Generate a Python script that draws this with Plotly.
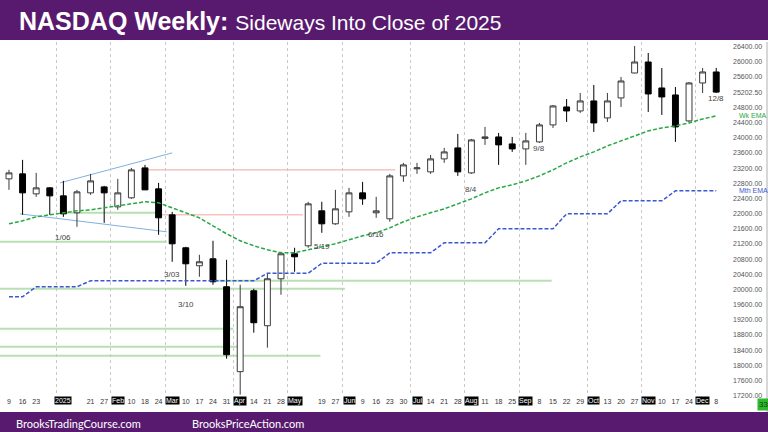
import plotly.graph_objects as go

# ---------------- data ----------------
weeks = ["2024-12-09", "2024-12-16", "2024-12-23", "2024-12-30", "2025-01-06", "2025-01-13", "2025-01-21",
         "2025-01-27", "2025-02-03", "2025-02-10", "2025-02-18", "2025-02-24", "2025-03-03", "2025-03-10",
         "2025-03-17", "2025-03-24", "2025-03-31", "2025-04-07", "2025-04-14", "2025-04-21", "2025-04-28",
         "2025-05-05", "2025-05-12", "2025-05-19", "2025-05-27", "2025-06-02", "2025-06-09", "2025-06-16",
         "2025-06-23", "2025-06-30", "2025-07-07", "2025-07-14", "2025-07-21", "2025-07-28", "2025-08-04",
         "2025-08-11", "2025-08-18", "2025-08-25", "2025-09-02", "2025-09-08", "2025-09-15", "2025-09-22",
         "2025-09-29", "2025-10-06", "2025-10-13", "2025-10-20", "2025-10-27", "2025-11-03", "2025-11-10",
         "2025-11-17", "2025-11-24", "2025-12-01", "2025-12-08"]

tick_labels = ["9", "16", "23", "", "2025", "", "21", "27", "Feb", "10", "18", "24", "Mar", "10", "17", "24",
               "31", "Apr", "14", "21", "28", "May", "", "19", "27", "Jun", "9", "16", "23", "30", "Jul", "14",
               "21", "28", "Aug", "11", "18", "25", "Sep", "8", "15", "22", "29", "Oct", "13", "20", "27", "Nov",
               "10", "17", "24", "Dec", "8"]

opens = [22915, 23047, 22520, 22678, 22467, 22020, 22546, 22704, 22177, 22415, 23205, 22652, 21967, 21098,
         20624, 20808, 20071, 17832, 19965, 19043, 20281, 20940, 21150, 22072, 21730, 22046, 22546, 22020,
         21862, 22994, 23180, 23100, 23442, 23732, 23073, 23982, 24021, 23837, 23705, 23890, 24338, 24812,
         24706, 24970, 24522, 25049, 25707, 25997, 25312, 25128, 24443, 25444, 25734]
highs = [23152, 23416, 23073, 22700, 22862, 22625, 23047, 22731, 22915, 23205, 23284, 22810, 22046, 21124,
         20913, 21282, 20782, 20123, 20018, 20413, 20992, 21098, 22310, 22310, 22625, 22678, 22836, 22441,
         23047, 23337, 23337, 23547, 23732, 24100, 23969, 24285, 24127, 24021, 24127, 24390, 24864, 25022,
         25180, 25391, 25180, 25602, 26418, 26234, 25839, 25338, 25470, 25839, 25839]
lows = [22625, 21967, 22441, 21967, 21914, 21651, 22494, 21756, 22099, 22388, 22620, 21440, 20729, 20097,
        20334, 20123, 18174, 17226, 18859, 18464, 19860, 20466, 21098, 21493, 21704, 21914, 22230, 21888,
        21783, 22836, 23047, 23047, 23337, 22994, 23047, 23811, 23284, 23626, 23284, 23864, 24258, 24416,
        24654, 24153, 24416, 24812, 25700, 24680, 24601, 23890, 24416, 25180, 25180]
closes = [23073, 22546, 22678, 22467, 21993, 22573, 22862, 22546, 22546, 23152, 22625, 21888, 21203, 20676,
          20729, 20202, 18279, 19544, 19122, 20281, 20940, 20861, 22257, 21730, 22125, 22546, 22388, 22072,
          22994, 23284, 23205, 23442, 23626, 23100, 23942, 24021, 23811, 23705, 23916, 24338, 24838, 24706,
          24970, 24390, 24970, 25496, 25997, 25154, 25075, 24285, 25444, 25734, 25202.5]

wk_ema = [21730, 21809, 21914, 21967, 22020, 22072, 22099, 22151, 22204, 22257, 22310, 22283, 22151, 22020,
          21888, 21677, 21466, 21282, 21150, 21045, 20966, 20966, 21045, 21124, 21203, 21308, 21414, 21493,
          21624, 21783, 21914, 22020, 22125, 22257, 22388, 22546, 22678, 22757, 22862, 22994, 23152, 23337,
          23494, 23626, 23784, 23916, 24048, 24180, 24258, 24311, 24390, 24496, 24575]
mth_ema = [19807, 19807, 20070, 20070, 20070, 20070, 20228, 20228, 20228, 20228, 20228, 20228, 20228, 20228,
           20228, 20228, 20228, 20228, 20228, 20426, 20426, 20426, 20426, 20689, 20689, 20689, 20689, 20689,
           20966, 20966, 20966, 20966, 21229, 21229, 21229, 21229, 21598, 21598, 21598, 21598, 21598, 21993,
           21993, 21993, 21993, 22336, 22336, 22336, 22336, 22599, 22599, 22599, 22599]

y_ticks = [26400, 26000, 25600, 25202.5, 24800, 24400, 24000, 23600, 23200, 22800, 22400, 22000, 21600,
           21200, 20800, 20400, 20000, 19600, 19200, 18800, 18400, 18000, 17600, 17200]

# support / resistance levels: (price, from week index, to week index)
green_levels = [(22020, 3.75, 11.1), (21256, -0.7, 11.6), (20228, 15.0, 39.9), (20018, -0.7, 24.7),
                (18964, -0.7, 16.5), (18490, -0.7, 17.0), (18253, -0.7, 22.9)]
red_levels = [(23152, 10.1, 28.4), (21967, 11.1, 21.6)]
channel_lines = [(3.75, 22810, 12.0, 23600), (0.8, 21993, 11.6, 21519)]
bar_notes = [("1/06", 4, 21360), ("3/03", 12, 20390), ("3/10", 13, 19600), ("5/19", 23, 21124),
             ("6/16", 27, 21440), ("8/4", 34, 22625), ("9/8", 39, 23705), ("12/8", 52, 25022)]

# ---------------- figure ----------------
x = list(range(len(weeks)))
PURPLE = "#581a6e"
W, H = 768, 432
ML, MR, MT, MB = 0, 36, 42, 36
PW, PH = W - ML - MR, H - MT - MB


def px(p):
    return (p - ML) / PW


def py(p):
    return (H - MB - p) / PH


def is_month(lab):
    return bool(lab) and (not lab.isdigit() or lab == "2025")


fig = go.Figure()
fig.add_trace(go.Candlestick(
    x=x, open=opens, high=highs, low=lows, close=closes,
    increasing=dict(line=dict(color="#3a3a3a", width=1), fillcolor="white"),
    decreasing=dict(line=dict(color="black", width=1), fillcolor="black"),
    whiskerwidth=0, showlegend=False, hoverinfo="skip"))
fig.add_trace(go.Scatter(x=x, y=wk_ema, mode="lines", line=dict(color="#27a844", width=1.5, dash="4px,2px"),
                         showlegend=False, hoverinfo="skip"))
fig.add_trace(go.Scatter(x=x, y=mth_ema, mode="lines", line=dict(color="#3a58d0", width=1.5, dash="4px,2px"),
                         showlegend=False, hoverinfo="skip"))

shapes = []
for price, a, b in green_levels:
    shapes.append(dict(type="line", xref="x", yref="y", x0=a, x1=b, y0=price, y1=price,
                       line=dict(color="#b9e0b2", width=2), layer="below"))
for price, a, b in red_levels:
    shapes.append(dict(type="line", xref="x", yref="y", x0=a, x1=b, y0=price, y1=price,
                       line=dict(color="#f4a3a3", width=1), layer="below"))
for a, pa, b, pb in channel_lines:
    shapes.append(dict(type="line", xref="x", yref="y", x0=a, x1=b, y0=pa, y1=pb,
                       line=dict(color="#7fb0e0", width=1), layer="below"))
# title & footer bars
shapes.append(dict(type="rect", xref="paper", yref="paper", x0=px(0), x1=px(W), y0=py(40), y1=py(0),
                   fillcolor=PURPLE, line=dict(width=0), layer="above"))
shapes.append(dict(type="rect", xref="paper", yref="paper", x0=px(0), x1=px(W), y0=py(H), y1=py(412),
                   fillcolor=PURPLE, line=dict(width=0), layer="above"))
shapes.append(dict(type="line", xref="paper", yref="paper", x0=px(767), x1=px(767), y0=py(412), y1=py(42),
                   line=dict(color="#b0b0b0", width=1)))

annotations = []
annotations.append(dict(xref="paper", yref="paper", x=px(17), y=py(21), xanchor="left", yanchor="middle",
                        showarrow=False,
                        text="<b>NASDAQ Weekly:</b> <span style='font-size:21px'>Sideways Into Close of 2025</span>",
                        font=dict(family="Liberation Sans, Arial", size=25, color="white")))
annotations.append(dict(xref="paper", yref="paper", x=px(14), y=py(423), xanchor="left", yanchor="middle",
                        showarrow=False, text="BrooksTradingCourse.com",
                        font=dict(family="Lato", size=11, color="white")))
annotations.append(dict(xref="paper", yref="paper", x=px(190), y=py(423), xanchor="left", yanchor="middle",
                        showarrow=False, text="BrooksPriceAction.com",
                        font=dict(family="Lato", size=11, color="white")))
for txt, i, price in bar_notes:
    annotations.append(dict(xref="x", yref="y", x=i, y=price, text=txt, showarrow=False,
                            font=dict(family="Liberation Sans, Arial", size=8, color="#444")))
# month markers on the date axis
for i, lab in enumerate(tick_labels):
    if is_month(lab):
        annotations.append(dict(xref="x", yref="paper", x=i, y=py(400.5), text=lab, showarrow=False,
                                yanchor="middle", bgcolor="black", borderpad=0,
                                font=dict(family="Liberation Sans, Arial", size=7, color="white")))
annotations.append(dict(xref="paper", yref="y", x=px(737), y=wk_ema[-1], xanchor="left", text="Wk EMA",
                        showarrow=False, font=dict(family="Liberation Sans, Arial", size=7, color="#27a844")))
annotations.append(dict(xref="paper", yref="y", x=px(737), y=mth_ema[-1], xanchor="left", text="Mth EMA",
                        showarrow=False, font=dict(family="Liberation Sans, Arial", size=7, color="#3a58d0")))
annotations.append(dict(xref="paper", yref="paper", x=px(757), y=py(404.5), xanchor="left", yanchor="middle",
                        text="33", showarrow=False, bgcolor="#2dbb2d", borderpad=1,
                        font=dict(family="Liberation Sans, Arial", size=8, color="#1a3a1a")))

month_starts = [i for i, lab in enumerate(tick_labels) if is_month(lab)]
num_vals = [i for i, lab in enumerate(tick_labels) if lab and not is_month(lab)]
x_range = [-0.66, 53.16]

fig.update_layout(
    width=W, height=H, margin=dict(l=ML, r=MR, t=MT, b=MB),
    paper_bgcolor="white", plot_bgcolor="white",
    boxgap=0.38, showlegend=False,
    shapes=shapes, annotations=annotations,
    xaxis=dict(range=x_range, rangeslider=dict(visible=False), tickmode="array",
               tickvals=num_vals, ticktext=[tick_labels[i] for i in num_vals],
               showgrid=False, zeroline=False, ticks="", showline=False,
               tickfont=dict(family="Liberation Sans, Arial", size=7, color="#333")),
    xaxis2=dict(range=x_range, overlaying="x", tickmode="array", tickvals=[i - 0.5 for i in month_starts],
                showticklabels=False, showgrid=True, gridcolor="#c8c8c8", griddash="dot", gridwidth=1,
                zeroline=False, ticks=""),
    yaxis=dict(range=[17190, 26524], side="right", tickmode="array", tickvals=y_ticks,
               ticktext=["%.2f" % v for v in y_ticks], showgrid=False, zeroline=False, ticks="",
               tickfont=dict(family="Liberation Sans, Arial", size=7, color="#555")),
)
fig.add_trace(go.Scatter(x=[x_range[0]], y=[17190], xaxis="x2", mode="markers", marker=dict(opacity=0),
                         showlegend=False, hoverinfo="skip"))

fig.write_html("out.html")
